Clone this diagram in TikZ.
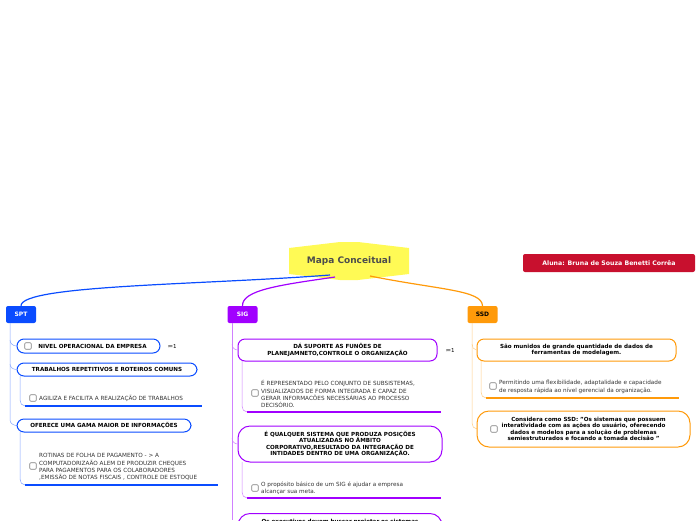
\documentclass[tikz,border=0pt]{standalone}
\usepackage{fontspec}
\setmainfont{DejaVu Sans}
\definecolor{cB}{HTML}{0A4CFF}
\definecolor{cP}{HTML}{A100FF}
\definecolor{cO}{HTML}{FF9A0A}
\definecolor{cY}{HTML}{FFFA55}
\definecolor{cR}{HTML}{C8102E}
\tikzset{
 pill/.style={draw=#1, line width=1pt, rounded corners=7pt, fill=white, inner sep=1pt, align=center, font=\fontsize{5.6}{6.6}\selectfont\bfseries},
 main/.style={fill=#1, rounded corners=2pt, text=white, font=\fontsize{6}{6}\selectfont\bfseries, minimum width=30pt, minimum height=17pt},
 leaf/.style={align=left, anchor=west, font=\fontsize{5.7}{7.2}\selectfont, text=black!80, inner sep=0pt},
 chk/.style={draw=gray, rounded corners=1pt, minimum size=6.5pt, inner sep=0pt, line width=0.6pt},
 ul/.style={line width=2pt, draw=#1},
 br/.style={draw=#1!50, line width=0.5pt},
 cn/.style={draw=#1, line width=1.2pt}
}
\begin{document}
\begin{tikzpicture}[x=1pt,y=-1pt]
\useasboundingbox (0,0) rectangle (696,520);
\clip (0,0) rectangle (696,520);
% center
\fill[cY] (289,248) -- (340,242) -- (358,242) -- (409,248) -- (409,274) -- (358,280) -- (340,280) -- (289,274) -- cycle;
\node[font=\fontsize{9}{10}\selectfont\bfseries, text=black!70] (c) at (349,261) {Mapa Conceitual};
\node[fill=cR, rounded corners=2pt, text=white, font=\fontsize{6.2}{7}\selectfont\bfseries, minimum width=172pt, minimum height=18pt, inner sep=0pt] (al) at (609,263) {Aluna: Bruna de Souza Benetti Corrêa};
\node[main=cB] (spt) at (21,314.5) {SPT};
\node[main=cP] (sig) at (242.5,314.5) {SIG};
\node[main=cO, text=black] (ssd) at (482.5,314.5) {SSD};
\draw[cn=cB] (330,275) .. controls (200,285) and (21,285) .. (spt.north);
\draw[cn=cP] (335,277) .. controls (280,285) and (242,290) .. (sig.north);
\draw[cn=cO] (370,276) .. controls (440,290) and (482,290) .. (ssd.north);
% SPT
\draw[br=cB] (10,323) -- (10,420) to[out=-90,in=180] (17,425.5);
\node[pill=cB, minimum width=143pt, minimum height=14pt] (n1) at (88.5,346) {\hspace{8pt}NIVEL OPERACIONAL DA EMPRESA};
\node[chk] (k1) at (28,346) {};
\node[font=\fontsize{5.5}{6}\selectfont, anchor=west] (m1) at (164,346) {≔1};
\node[pill=cB, minimum width=180pt, minimum height=13pt] (n2) at (107,369.5) {TRABALHOS REPETITIVOS E ROTEIROS COMUNS};
\node[pill=cB, minimum width=174pt, minimum height=13pt] (n3) at (104,425.5) {OFERECE UMA GAMA MAIOR DE INFORMAÇÕES};
\draw[br=cB] (10,340) to[out=-90,in=180] (n1.west);
\draw[br=cB] (10,364) to[out=-90,in=180] (n2.west);
\node[chk] (k2) at (33,398) {};
\node[leaf] (l2) at (39,398) {AGILIZA E FACILITA A REALIZAÇÃO DE TRABALHOS};
\draw[br=cB] (20,376) -- (20,400) to[out=-90,in=180] (25,406);
\draw[ul=cB] (25,406) -- (202,406);
\node[chk] (k3) at (33,466) {};
\node[leaf] (l3) at (39,467) {ROTINAS DE FOLHA DE PAGAMENTO - > A\\COMPUTADORIZAÃO ALEM DE PRODUZIR CHEQUES\\PARA PAGAMENTOS PARA OS COLABORADORES\\,EMISSÃO DE NOTAS FISCAIS , CONTROLE DE ESTOQUE};
\draw[br=cB] (20,432) -- (20,479) to[out=-90,in=180] (25,485);
\draw[ul=cB] (25,485) -- (218,485);
% SIG
\draw[br=cP] (232,323) -- (232,520);
\node[pill=cP, minimum width=199pt, minimum height=22pt] (s1) at (337.5,350) {DÁ SUPORTE AS FUNÕES DE\\PLANEJAMNETO,CONTROLE O ORGANIZAÇÃO};
\node[font=\fontsize{5.5}{6}\selectfont, anchor=west] (m2) at (442,350) {≔1};
\draw[br=cP] (232,344) to[out=-90,in=180] (s1.west);
\node[chk] (k4) at (255,393) {};
\node[leaf] (l4) at (261,394) {É REPRESENTADO PELO CONJUNTO DE SUBSISTEMAS,\\VISUALIZADOS DE FORMA INTEGRADA E CAPAZ DE\\GERAR INFORMACÕES NECESSÁRIAS AO PROCESSO\\DECISÓRIO.};
\draw[br=cP] (242,361) -- (242,406) to[out=-90,in=180] (247,412);
\draw[ul=cP] (247,412) -- (441,412);
\node[pill=cP, minimum width=204pt, minimum height=36pt, rounded corners=12pt] (s2) at (340,444) {É QUALQUER SISTEMA QUE PRODUZA POSIÇÕES\\ATUALIZADAS NO ÂMBITO\\CORPORATIVO,RESULTADO DA INTEGRAÇÃO DE\\INTIDADES DENTRO DE UMA ORGANIZAÇÃO.};
\draw[br=cP] (232,438) to[out=-90,in=180] (s2.west);
\node[chk] (k5) at (255,488) {};
\node[leaf] (l5) at (261,488) {O propósito básico de um SIG é ajudar a empresa\\alcançar sua meta.};
\draw[br=cP] (242,462) -- (242,492) to[out=-90,in=180] (247,498);
\draw[ul=cP] (247,498) -- (441,498);
\node[pill=cP, minimum width=204pt, minimum height=24pt, anchor=north, rounded corners=12pt] (s3) at (340,513) {Os executivos devem buscar projetar os sistemas\\ \strut};
% SSD
\draw[br=cO] (472,323) -- (472,423) to[out=-90,in=180] (477,429);
\node[pill=cO, minimum width=199pt, minimum height=22pt] (d1) at (576.5,350) {São munidos de grande quantidade de dados de\\ferramentas de modelagem.};
\draw[br=cO] (472,344) to[out=-90,in=180] (d1.west);
\node[chk] (k6) at (493,386) {};
\node[leaf] (l6) at (499,387) {Permitindo uma flexibilidade, adaptalidade e capacidade\\de resposta rápida ao nível gerencial da organização.};
\draw[br=cO] (481,361) -- (481,392) to[out=-90,in=180] (486,398);
\draw[ul=cO] (486,398) -- (679,398);
\node[pill=cO, minimum width=213pt, minimum height=36pt, rounded corners=12pt] (d2) at (583.5,429) {\hspace{10pt}Considera como SSD: "Os sistemas que possuem\\interatividade com as ações do usuário, oferecendo\\dados e modelos para a solução de problemas\\semiestruturados e focando a tomada decisão  "};
\node[chk] (k7) at (494,429) {};
\end{tikzpicture}
\end{document}
